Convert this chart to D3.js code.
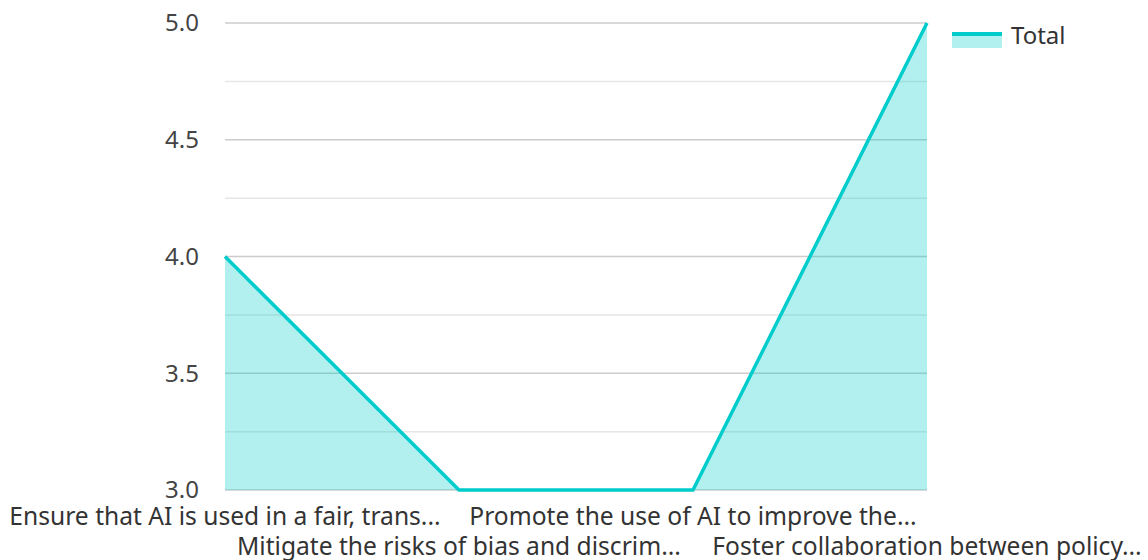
<!DOCTYPE html>
<html>
<head>
<meta charset="utf-8">
<script src="https://cdn.jsdelivr.net/npm/d3@7"></script>
<style>
body { margin: 0; background: #fff; }
text { font-family: "Noto Sans", sans-serif; }
</style>
</head>
<body>
<div id="chart"></div>
<script>
var categories = [
    "Ensure that AI is used in a fair, trans...",
    "Mitigate the risks of bias and discrim...",
    "Promote the use of AI to improve the...",
    "Foster collaboration between policy..."
];
var totals = [4, 3, 3, 5];
var yTicks = [3.0, 3.5, 4.0, 4.5, 5.0];
var yMinorTicks = [3.25, 3.75, 4.25, 4.75];
var seriesName = "Total";

var w = 1148;
var h = 560;
var plotLeft = 225, plotRight = 927, plotTop = 23, plotBottom = 490;

var svg = d3.select("#chart").append("svg").attr("width", w).attr("height", h);

var x = d3.scalePoint().domain(categories).range([plotLeft, plotRight]);
var y = d3.scaleLinear().domain([3, 5]).range([plotBottom, plotTop]);

// grid
svg.selectAll("line.minor").data(yMinorTicks).enter().append("line")
    .attr("class", "minor")
    .attr("x1", plotLeft).attr("x2", plotRight)
    .attr("y1", function(d){ return y(d); })
    .attr("y2", function(d){ return y(d); })
    .style("stroke", "#e6e6e6").style("stroke-width", 1.5);

svg.selectAll("line.major").data(yTicks).enter().append("line")
    .attr("class", "major")
    .attr("x1", plotLeft).attr("x2", plotRight)
    .attr("y1", function(d){ return y(d); })
    .attr("y2", function(d){ return y(d); })
    .style("stroke", "#cccccc").style("stroke-width", 1.5);

// y labels
svg.selectAll("text.ylab").data(yTicks).enter().append("text")
    .attr("class", "ylab")
    .text(function(d){ return d.toFixed(1); })
    .attr("x", 199)
    .attr("y", function(d){ return y(d); })
    .attr("dy", "0.35em")
    .attr("text-anchor", "end")
    .attr("font-size", "24px")
    .style("fill", "#444");

// area + line
var area = d3.area()
    .x(function(d,i){ return x(categories[i]); })
    .y0(y(3))
    .y1(function(d){ return y(d); });
var line = d3.line()
    .x(function(d,i){ return x(categories[i]); })
    .y(function(d){ return y(d); });

svg.append("path").datum(totals).attr("d", area)
    .style("fill", "rgba(0,204,204,0.3)");
svg.append("path").datum(totals).attr("d", line)
    .style("fill", "none").style("stroke", "#00cccc").style("stroke-width", 3.5);

// x labels, alternating rows
svg.selectAll("text.xlab").data(categories).enter().append("text")
    .attr("class", "xlab")
    .text(function(d){ return d; })
    .attr("x", function(d){ return x(d); })
    .attr("y", function(d,i){ return i % 2 == 0 ? 516 : 546; })
    .attr("dy", "0.35em")
    .attr("text-anchor", "middle")
    .attr("font-size", "24.6px")
    .style("fill", "#333");

// legend
svg.append("rect").attr("x", 952).attr("y", 34).attr("width", 50).attr("height", 14)
    .style("fill", "rgba(0,204,204,0.3)");
svg.append("line").attr("x1", 952).attr("x2", 1002).attr("y1", 34).attr("y2", 34)
    .style("stroke", "#00cccc").style("stroke-width", 4);
svg.append("text").text(seriesName)
    .attr("x", 1011).attr("y", 36).attr("dy", "0.35em")
    .attr("font-size", "24px").style("fill", "#333");
</script>
</body>
</html>
